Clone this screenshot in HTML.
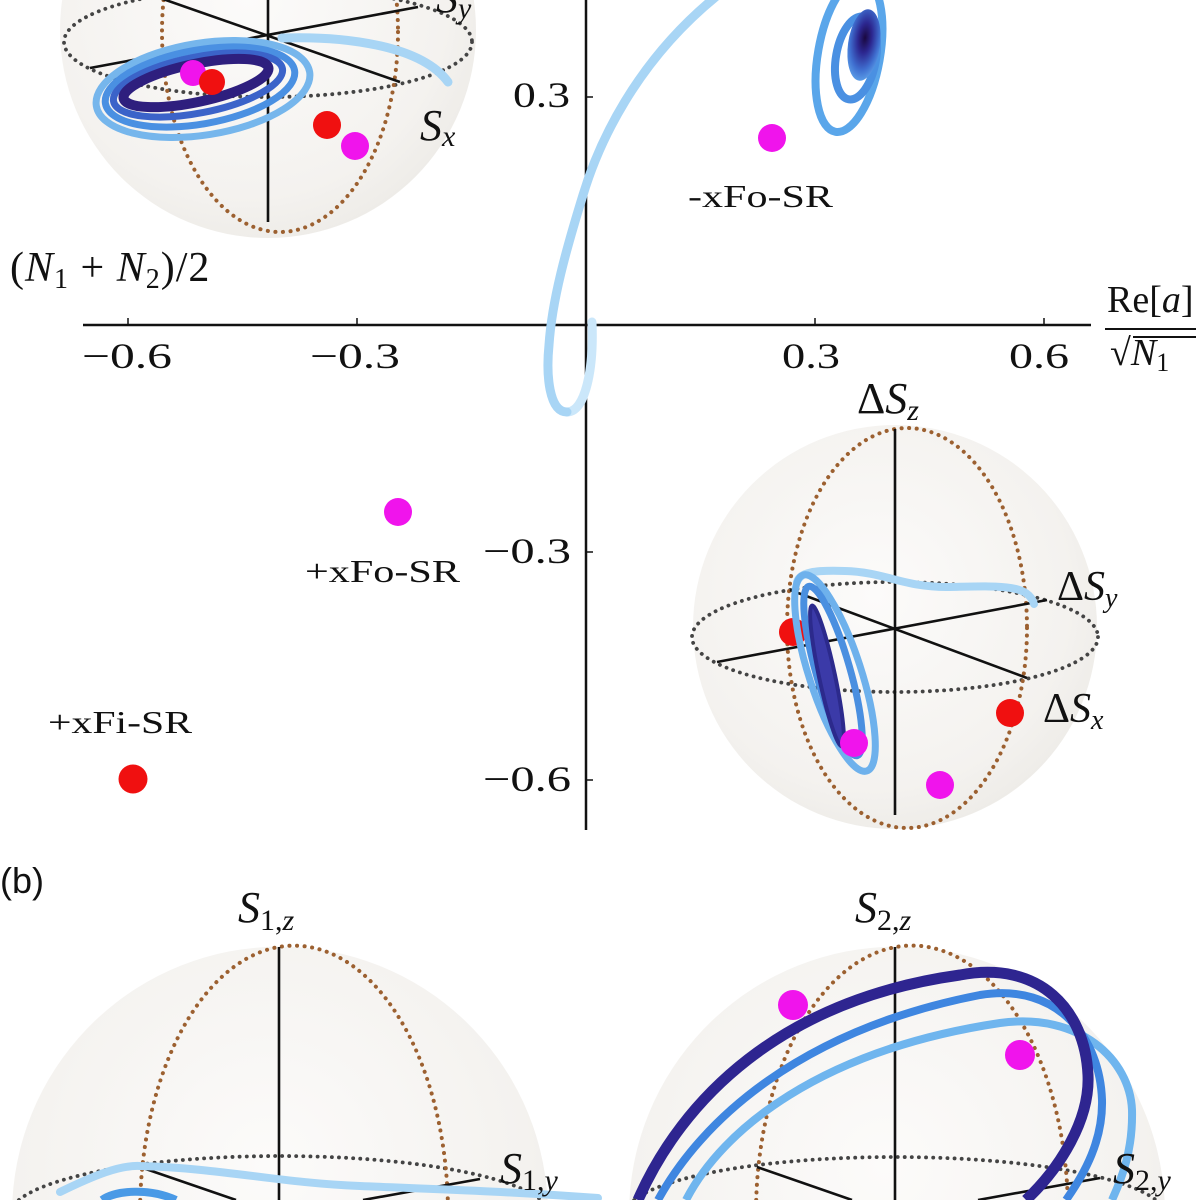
<!DOCTYPE html>
<html><head><meta charset="utf-8">
<style>
html,body{margin:0;padding:0;background:#fff;width:1200px;height:1200px;overflow:hidden;}
svg{display:block;overflow:hidden;}
text{font-family:"Liberation Serif","DejaVu Serif",serif;fill:#111;}
</style></head><body>
<svg width="1200" height="1200" viewBox="0 0 1200 1200" xmlns="http://www.w3.org/2000/svg">
<defs>
<radialGradient id="sph" cx="0.45" cy="0.42" r="0.6">
 <stop offset="0" stop-color="#fcfbfa"/>
 <stop offset="0.8" stop-color="#f4f2ef"/>
 <stop offset="1" stop-color="#eeece8"/>
</radialGradient>
<radialGradient id="sphB" gradientUnits="userSpaceOnUse" cx="268" cy="1165" r="325">
 <stop offset="0" stop-color="#fcfbfa"/>
 <stop offset="0.8" stop-color="#f4f2ef"/>
 <stop offset="1" stop-color="#eeece8"/>
</radialGradient>
<radialGradient id="sphC" gradientUnits="userSpaceOnUse" cx="885" cy="1165" r="325">
 <stop offset="0" stop-color="#fcfbfa"/>
 <stop offset="0.8" stop-color="#f4f2ef"/>
 <stop offset="1" stop-color="#eeece8"/>
</radialGradient>
<radialGradient id="core" cx="0.5" cy="0.4" r="0.6">
 <stop offset="0" stop-color="#1a0840"/>
 <stop offset="0.35" stop-color="#2c2790"/>
 <stop offset="0.75" stop-color="#3f6fd0"/>
 <stop offset="1" stop-color="#5a9be6"/>
</radialGradient>
</defs>
<rect width="1200" height="1200" fill="#fff"/>

<!-- main axes -->
<g stroke="#111" stroke-width="2.5" fill="none">
<line x1="83" y1="325" x2="1091" y2="325"/>
<line x1="586" y1="0" x2="586" y2="830"/>
</g>
<g stroke="#111" stroke-width="1.5">
<line x1="128" y1="318" x2="128" y2="325"/>
<line x1="357" y1="318" x2="357" y2="325"/>
<line x1="815" y1="318" x2="815" y2="325"/>
<line x1="1044" y1="318" x2="1044" y2="325"/>
<line x1="586" y1="97" x2="593" y2="97"/>
<line x1="586" y1="552" x2="593" y2="552"/>
<line x1="586" y1="780" x2="593" y2="780"/>
</g>
<g font-size="36">
<text x="82" y="368" textLength="90" lengthAdjust="spacingAndGlyphs">−0.6</text>
<text x="310" y="368" textLength="90" lengthAdjust="spacingAndGlyphs">−0.3</text>
<text x="782" y="368" textLength="58" lengthAdjust="spacingAndGlyphs">0.3</text>
<text x="1009" y="368" textLength="60" lengthAdjust="spacingAndGlyphs">0.6</text>
<text x="513" y="107" textLength="57" lengthAdjust="spacingAndGlyphs">0.3</text>
<text x="483" y="563" textLength="88" lengthAdjust="spacingAndGlyphs">−0.3</text>
<text x="483" y="791" textLength="88" lengthAdjust="spacingAndGlyphs">−0.6</text>
</g>

<!-- Re[a]/sqrt(N1) -->
<text x="1107" y="312" font-size="38">Re[<tspan font-style="italic">a</tspan>]</text>
<line x1="1105" y1="329" x2="1196" y2="329" stroke="#111" stroke-width="2"/>
<text x="1110" y="365" font-size="38">√<tspan font-style="italic">N</tspan><tspan font-size="26" dy="6">1</tspan></text>
<line x1="1133" y1="337" x2="1196" y2="337" stroke="#111" stroke-width="2"/>

<!-- main trajectory -->
<path d="M 592 322 C 594 370, 585 412, 567 412" fill="none" stroke="#cbe7fa" stroke-width="9" stroke-linecap="round"/>
<path d="M 567 412 C 549 412, 546 375, 549 345 C 552 300, 566 250, 583 195 C 598 145, 635 62, 718 -5" fill="none" stroke="#a8d5f5" stroke-width="9" stroke-linecap="round"/>
<ellipse cx="849" cy="55" rx="31" ry="78" transform="rotate(10 849 55)" fill="none" stroke="#5aa6ea" stroke-width="8"/>
<ellipse cx="856" cy="58" rx="20" ry="42" transform="rotate(10 856 58)" fill="none" stroke="#4a90e2" stroke-width="8"/>
<ellipse cx="864" cy="45" rx="16" ry="36" transform="rotate(8 864 45)" fill="url(#core)"/>

<!-- labeled points -->
<circle cx="772" cy="138" r="14" fill="#f014ec"/>
<text x="688" y="207" font-size="32" textLength="145" lengthAdjust="spacingAndGlyphs">-xFo-SR</text>
<circle cx="398" cy="512" r="14" fill="#f014ec"/>
<text x="305" y="582" font-size="32" textLength="155" lengthAdjust="spacingAndGlyphs">+xFo-SR</text>
<circle cx="133" cy="779" r="14.5" fill="#f01010"/>
<text x="48" y="733" font-size="32" textLength="144" lengthAdjust="spacingAndGlyphs">+xFi-SR</text>

<!-- ===== top-left sphere ===== -->
<circle cx="268" cy="30" r="208" fill="url(#sph)"/>
<ellipse cx="268" cy="42" rx="204" ry="55" fill="none" stroke="#444" stroke-width="3.8" stroke-dasharray="0.1 7" stroke-linecap="round"/>
<ellipse cx="280" cy="32" rx="118" ry="200" fill="none" stroke="#9c6030" stroke-width="4" stroke-dasharray="0.1 7.5" stroke-linecap="round"/>
<g stroke="#111" stroke-width="2.6">
<line x1="268" y1="0" x2="268" y2="222"/>
<line x1="90" y1="68" x2="418" y2="7"/>
<line x1="160" y1="-2" x2="400" y2="82"/>
</g>
<g fill="none">
<path d="M 282 38 C 340 36, 420 44, 448 82" stroke="#a8d5f5" stroke-width="9" stroke-linecap="round"/>
<ellipse cx="203" cy="89" rx="108" ry="46" transform="rotate(-9 203 89)" stroke="#76b6ec" stroke-width="7"/>
<ellipse cx="200" cy="87" rx="96" ry="37" transform="rotate(-10 200 87)" stroke="#4a90e2" stroke-width="7"/>
<ellipse cx="198" cy="85" rx="86" ry="28" transform="rotate(-11 198 85)" stroke="#3b63c9" stroke-width="7"/>
<ellipse cx="196" cy="83" rx="74" ry="19" transform="rotate(-12 196 83)" stroke="#2e1f7e" stroke-width="10"/>
</g>
<circle cx="193" cy="73" r="13" fill="#f014ec"/>
<circle cx="212" cy="82" r="13" fill="#f01010"/>
<circle cx="327" cy="125" r="14" fill="#f01010"/>
<circle cx="355" cy="146" r="14" fill="#f014ec"/>
<text x="420" y="140" font-size="44" font-style="italic">S<tspan font-size="30" dy="6">x</tspan></text>
<text x="436" y="12" font-size="44" font-style="italic">S<tspan font-size="30" dy="6">y</tspan></text>
<text x="10" y="281" font-size="42" letter-spacing="1">(<tspan font-style="italic">N</tspan><tspan font-size="28" dy="7">1</tspan><tspan dy="-7"> + </tspan><tspan font-style="italic">N</tspan><tspan font-size="28" dy="7">2</tspan><tspan dy="-7">)/2</tspan></text>

<!-- ===== ΔS sphere ===== -->
<circle cx="895" cy="627" r="202" fill="url(#sph)"/>
<ellipse cx="895" cy="637" rx="203" ry="55" fill="none" stroke="#444" stroke-width="3.8" stroke-dasharray="0.1 7" stroke-linecap="round"/>
<ellipse cx="907" cy="628" rx="120" ry="200" fill="none" stroke="#9c6030" stroke-width="4" stroke-dasharray="0.1 7.5" stroke-linecap="round"/>
<g stroke="#111" stroke-width="2.6">
<line x1="895" y1="429" x2="895" y2="815"/>
<line x1="717" y1="662" x2="1047" y2="600"/>
<line x1="790" y1="590" x2="1027" y2="678"/>
</g>
<circle cx="793" cy="632" r="14" fill="#f01010"/>
<g fill="none">
<path d="M 1034 604 C 1028 584, 1000 586, 950 587 C 905 588, 885 572, 845 571 C 815 570, 800 572, 797 582" stroke="#a8d5f5" stroke-width="8" stroke-linecap="round"/>
<ellipse cx="835" cy="673" rx="26" ry="103" transform="rotate(-18 835 673)" stroke="#6eb1ec" stroke-width="7"/>
<ellipse cx="833" cy="671" rx="17" ry="88" transform="rotate(-16 833 671)" stroke="#4a8fe0" stroke-width="7"/>
</g>
<ellipse cx="827" cy="676" rx="8" ry="72" transform="rotate(-12 827 676)" fill="#3b3aa8" stroke="#2c2a8c" stroke-width="4"/>
<circle cx="854" cy="743" r="14" fill="#f014ec"/>
<circle cx="1010" cy="713" r="14" fill="#f01010"/>
<circle cx="940" cy="785" r="14" fill="#f014ec"/>
<text x="857" y="413" font-size="44">Δ<tspan font-style="italic">S</tspan><tspan font-size="30" dy="7" font-style="italic">z</tspan></text>
<text x="1057" y="600" font-size="42">Δ<tspan font-style="italic">S</tspan><tspan font-size="28" dy="7" font-style="italic">y</tspan></text>
<text x="1043" y="722" font-size="42">Δ<tspan font-style="italic">S</tspan><tspan font-size="28" dy="7" font-style="italic">x</tspan></text>

<!-- (b) -->
<text x="0" y="893" font-size="36" style="font-family:'Liberation Sans','DejaVu Sans',sans-serif">(b)</text>

<!-- ===== S1 sphere (clipped at y=1200) ===== -->
<path d="M 12.4 1200 A 268 268 0 0 1 547.6 1200 Z" fill="url(#sphB)"/>
<path d="M 18.9 1200 A 270 59 0 0 1 541.1 1200" fill="none" stroke="#444" stroke-width="3.8" stroke-dasharray="0.1 7" stroke-linecap="round"/>
<path d="M 140.2 1200 A 154 268 0 0 1 447.8 1200" fill="none" stroke="#9c6030" stroke-width="4" stroke-dasharray="0.1 7.5" stroke-linecap="round"/>
<g stroke="#111" stroke-width="2.6">
<line x1="279" y1="947" x2="279" y2="1200"/>
<line x1="140" y1="1167" x2="236" y2="1200"/>
<line x1="480" y1="1179" x2="363" y2="1200"/>
</g>
<g fill="none" stroke-linecap="round">
<path d="M 60 1192 C 95 1175, 120 1165, 140 1166 C 220 1168, 280 1183, 360 1186 C 430 1189, 500 1191, 598 1198" stroke="#a8d5f5" stroke-width="8"/>
<path d="M 102 1200 C 116 1190, 150 1188, 176 1200" stroke="#4a9ae6" stroke-width="8" stroke-linecap="butt"/>
</g>
<text x="238" y="922" font-size="44" font-style="italic">S<tspan font-size="30" dy="8" font-style="normal">1,</tspan><tspan font-size="30" font-style="italic">z</tspan></text>
<text x="500" y="1183" font-size="44" font-style="italic">S<tspan font-size="30" dy="7" font-style="normal">1,</tspan><tspan font-size="30" font-style="italic">y</tspan></text>

<!-- ===== S2 sphere (clipped at y=1200) ===== -->
<path d="M 629.4 1200 A 268 268 0 0 1 1164.6 1200 Z" fill="url(#sphC)"/>
<path d="M 634.2 1200 A 270 58 0 0 1 1155.8 1200" fill="none" stroke="#444" stroke-width="3.8" stroke-dasharray="0.1 7" stroke-linecap="round"/>
<path d="M 756.2 1200 A 156 268 0 0 1 1067.8 1200" fill="none" stroke="#9c6030" stroke-width="4" stroke-dasharray="0.1 7.5" stroke-linecap="round"/>
<g stroke="#111" stroke-width="2.6">
<line x1="895" y1="947" x2="895" y2="1200"/>
<line x1="757" y1="1167" x2="852" y2="1200"/>
<line x1="1100" y1="1178" x2="978" y2="1200"/>
</g>
<g fill="none">
<path d="M 686 1200 C 722 1130, 820 1050, 1000 1023 C 1080 1012, 1130 1060, 1132 1110 C 1133 1150, 1122 1178, 1112 1200" stroke="#6fb5ee" stroke-width="8"/>
<path d="M 658 1200 C 702 1120, 800 1030, 980 995 C 1060 982, 1100 1040, 1102 1100 C 1103 1140, 1085 1173, 1066 1200" stroke="#3f86e0" stroke-width="8"/>
<path d="M 638 1200 C 682 1100, 780 1000, 960 975 C 1040 960, 1085 1010, 1088 1075 C 1090 1120, 1060 1168, 1026 1200" stroke="#2e2590" stroke-width="11"/>
</g>
<circle cx="793" cy="1005" r="15" fill="#f014ec"/>
<circle cx="1020" cy="1055" r="15" fill="#f014ec"/>
<text x="855" y="922" font-size="44" font-style="italic">S<tspan font-size="30" dy="8" font-style="normal">2,</tspan><tspan font-size="30" font-style="italic">z</tspan></text>
<text x="1113" y="1183" font-size="44" font-style="italic">S<tspan font-size="30" dy="7" font-style="normal">2,</tspan><tspan font-size="30" font-style="italic">y</tspan></text>
</svg>
</body></html>
